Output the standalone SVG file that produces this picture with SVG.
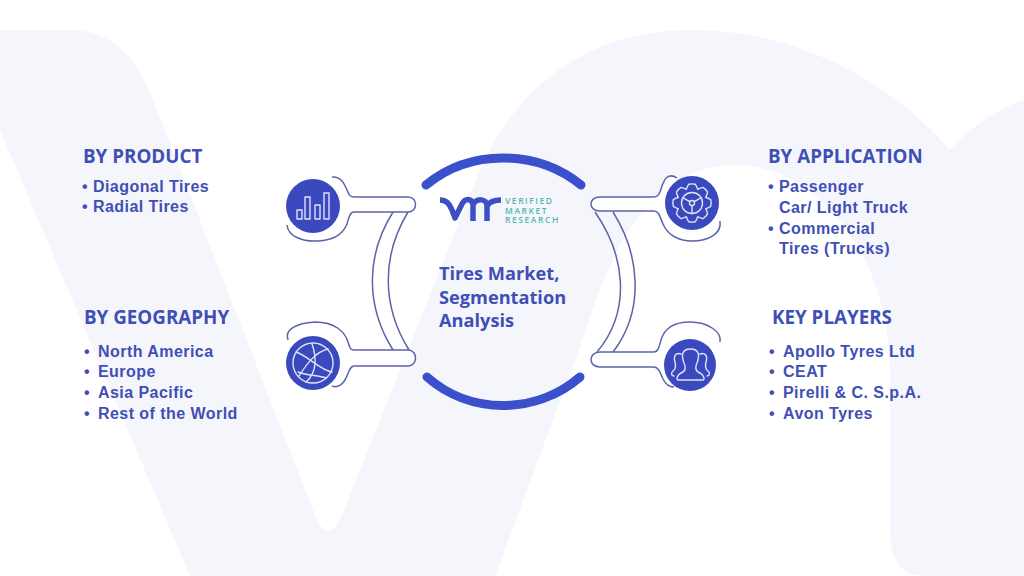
<svg xmlns="http://www.w3.org/2000/svg" xmlns:xlink="http://www.w3.org/1999/xlink" width="1024" height="576" viewBox="0 0 1024 576">
<style>
.h{font-family:"Open Sans","Liberation Sans",sans-serif;font-weight:700;font-size:18.8px;fill:#3f4fb5}
.b{font-family:"Liberation Sans",Arial,sans-serif;font-weight:700;font-size:16px;letter-spacing:.45px;fill:#3f4fb5}
.c{font-family:"Open Sans","Liberation Sans",sans-serif;font-weight:700;font-size:18.2px;fill:#3f4fb5}
.l{font-family:"Open Sans","Liberation Sans",sans-serif;font-weight:600;font-size:8.5px;letter-spacing:1.55px;fill:#52b9ab}
.o{fill:#fff;stroke:#5c64a8;stroke-width:1.5;stroke-linejoin:round}
.w{fill:none;stroke:#5c64a8;stroke-width:1.5}
.d{fill:#3a49bd}
.i{fill:none;stroke:#dfe3f7;stroke-width:1.4;stroke-linejoin:round;stroke-linecap:round}
.a{fill:none;stroke:#3b50cc;stroke-width:9;stroke-linecap:round}
</style>
<defs>
<path id="tooth" class="i" d="M13.9 -5.7Q15.5 -5 16.5 -4.6L18.7 -3.3Q19.6 0 18.7 3.3L16.5 4.6Q15.5 5 13.9 5.7"/>
</defs>
<rect width="1024" height="576" fill="#fff"/>
<g id="background">
<path fill="#f5f6fc" d="M0 30H70C115 30 140 62 155 105L315 515C322 535 334 535 342 515L478 175C515 85 590 30 690 30C790 30 885 75 950 150C965 135 990 110 1024 100V576H925C900 576 890 560 890 530V370C890 260 820 165 735 165C680 165 640 205 615 255C595 295 585 335 570 375L495 576H190L0 130Z"/>
</g>
<g id="connectors">
<path class="w" d="M393 212C366 255 365 305 393 350M408 212C382 255 381 305 409 350"/>
<path class="w" d="M595 212C625 255 632 310 597 352M613 212C640 255 645 310 613 352"/>
</g>
<g id="node-product">
<path class="o" d="M332 177C342 176 345 186 347 190C349 195 350 197 354 197H408C418 197 418 212 408 212H354C350 212 349 217 347 224C342 236 332 240 318 241C302 242 288 236 287 225"/>
<circle class="d" cx="313" cy="206" r="27"/>
<path class="i" d="M297 210h5v9h-5zM305 197h5v22h-5zM315 205h5v14h-5zM324 193h5v26h-5z"/>
</g>
<g id="node-geography">
<path class="o" d="M288 340C284 330 296 323 315 322C335 322 345 332 348 342C350 349 351 350 354 350H408C418 350 418 366 408 366H354C350 366 349 372 346 378C343 385 337 388 332 386"/>
<circle class="d" cx="313" cy="363" r="27"/>
<circle class="i" cx="313" cy="363" r="20"/>
<path class="i" d="M296 352C308 356 320 370 332 372M299 376C308 362 316 352 328 349M312 344C316 355 318 372 306 382M298 372C308 376 318 375 326 378"/>
</g>
<g id="node-application">
<path class="o" d="M677 178C668 172 664 180 662 186C660 192 659 197 654 197H600C588 197 588 211 600 211H654C659 211 660 217 663 224C668 236 680 241 692 241C708 241 722 234 720 221"/>
<circle class="d" cx="692" cy="203" r="27"/>
<g transform="translate(692 203)">
<use xlink:href="#tooth"/>
<use xlink:href="#tooth" transform="rotate(45)"/>
<use xlink:href="#tooth" transform="rotate(90)"/>
<use xlink:href="#tooth" transform="rotate(135)"/>
<use xlink:href="#tooth" transform="rotate(180)"/>
<use xlink:href="#tooth" transform="rotate(225)"/>
<use xlink:href="#tooth" transform="rotate(270)"/>
<use xlink:href="#tooth" transform="rotate(315)"/>
<circle class="i" r="10.5"/>
<circle class="i" r="2.5"/>
<path class="i" d="M-2.2 -1.3L-9 -5.2M2.2 -1.3L9 -5.2M0 2.5V10.5"/>
</g>
</g>
<g id="node-players">
<path class="o" d="M720 342C722 332 708 322 690 322C672 322 664 330 661 340C659 347 658 352 654 352H600C588 352 588 367 600 367H654C658 367 660 372 663 379C666 385 670 387 674 387"/>
<circle class="d" cx="690" cy="365" r="26"/>
<path class="i" d="M678 380H703C705 380 704 375 700 373C695 371 695 367 697 363C700 355 699 349 690.500 349C682 349 681 355 684 363C686 367 686 371 681 373C677 375 676 380 678 380ZM681 354C676 352 673 356 675 362C676 366 676 369 673 371C671 373 671 376 674 376M700 354C705 352 708 356 706 362C705 366 705 369 708 371C710 373 710 376 707 376"/>
</g>
<g id="center">
<path class="a" d="M426 185C470 149 536 149 581 185"/>
<path class="a" d="M427 377C470 415 536 415 580 377"/>
<path fill="none" stroke="#3d4fc4" stroke-width="5.5" stroke-linejoin="round" d="M440 200C446 200 449 203 452 210L455 218L462 204C465 198 471 198 473 204V221M473 205C476 198 487 198 487 206V221M487 206C490 201 495 200 501 200"/>
<text class="l" x="505" y="204">VERIFIED</text>
<text class="l" x="505" y="213.500">MARKET</text>
<text class="l" x="505" y="223">RESEARCH</text>
<text class="c" x="439" y="280">Tires Market,</text>
<text class="c" x="439" y="304">Segmentation</text>
<text class="c" x="439" y="327">Analysis</text>
</g>
<g id="text-product">
<text class="h" x="83" y="163">BY PRODUCT</text>
<text class="b" x="82" y="192">• Diagonal Tires</text>
<text class="b" x="82" y="212">• Radial Tires</text>
</g>
<g id="text-geography">
<text class="h" x="84" y="324">BY GEOGRAPHY</text>
<text class="b" x="84" y="357">•</text><text class="b" x="98" y="357">North America</text>
<text class="b" x="84" y="377">•</text><text class="b" x="98" y="377">Europe</text>
<text class="b" x="84" y="398">•</text><text class="b" x="98" y="398">Asia Pacific</text>
<text class="b" x="84" y="419">•</text><text class="b" x="98" y="419">Rest of the World</text>
</g>
<g id="text-application">
<text class="h" x="768" y="163">BY APPLICATION</text>
<text class="b" x="768" y="192">•</text><text class="b" x="779" y="192">Passenger</text>
<text class="b" x="779" y="213">Car/ Light Truck</text>
<text class="b" x="768" y="234">•</text><text class="b" x="779" y="234">Commercial</text>
<text class="b" x="779" y="254">Tires (Trucks)</text>
</g>
<g id="text-players">
<text class="h" x="772" y="324">KEY PLAYERS</text>
<text class="b" x="769" y="357">•</text><text class="b" x="783" y="357">Apollo Tyres Ltd</text>
<text class="b" x="769" y="377">•</text><text class="b" x="783" y="377">CEAT</text>
<text class="b" x="769" y="398">•</text><text class="b" x="783" y="398">Pirelli &amp; C. S.p.A.</text>
<text class="b" x="769" y="419">•</text><text class="b" x="783" y="419">Avon Tyres</text>
</g>
</svg>
